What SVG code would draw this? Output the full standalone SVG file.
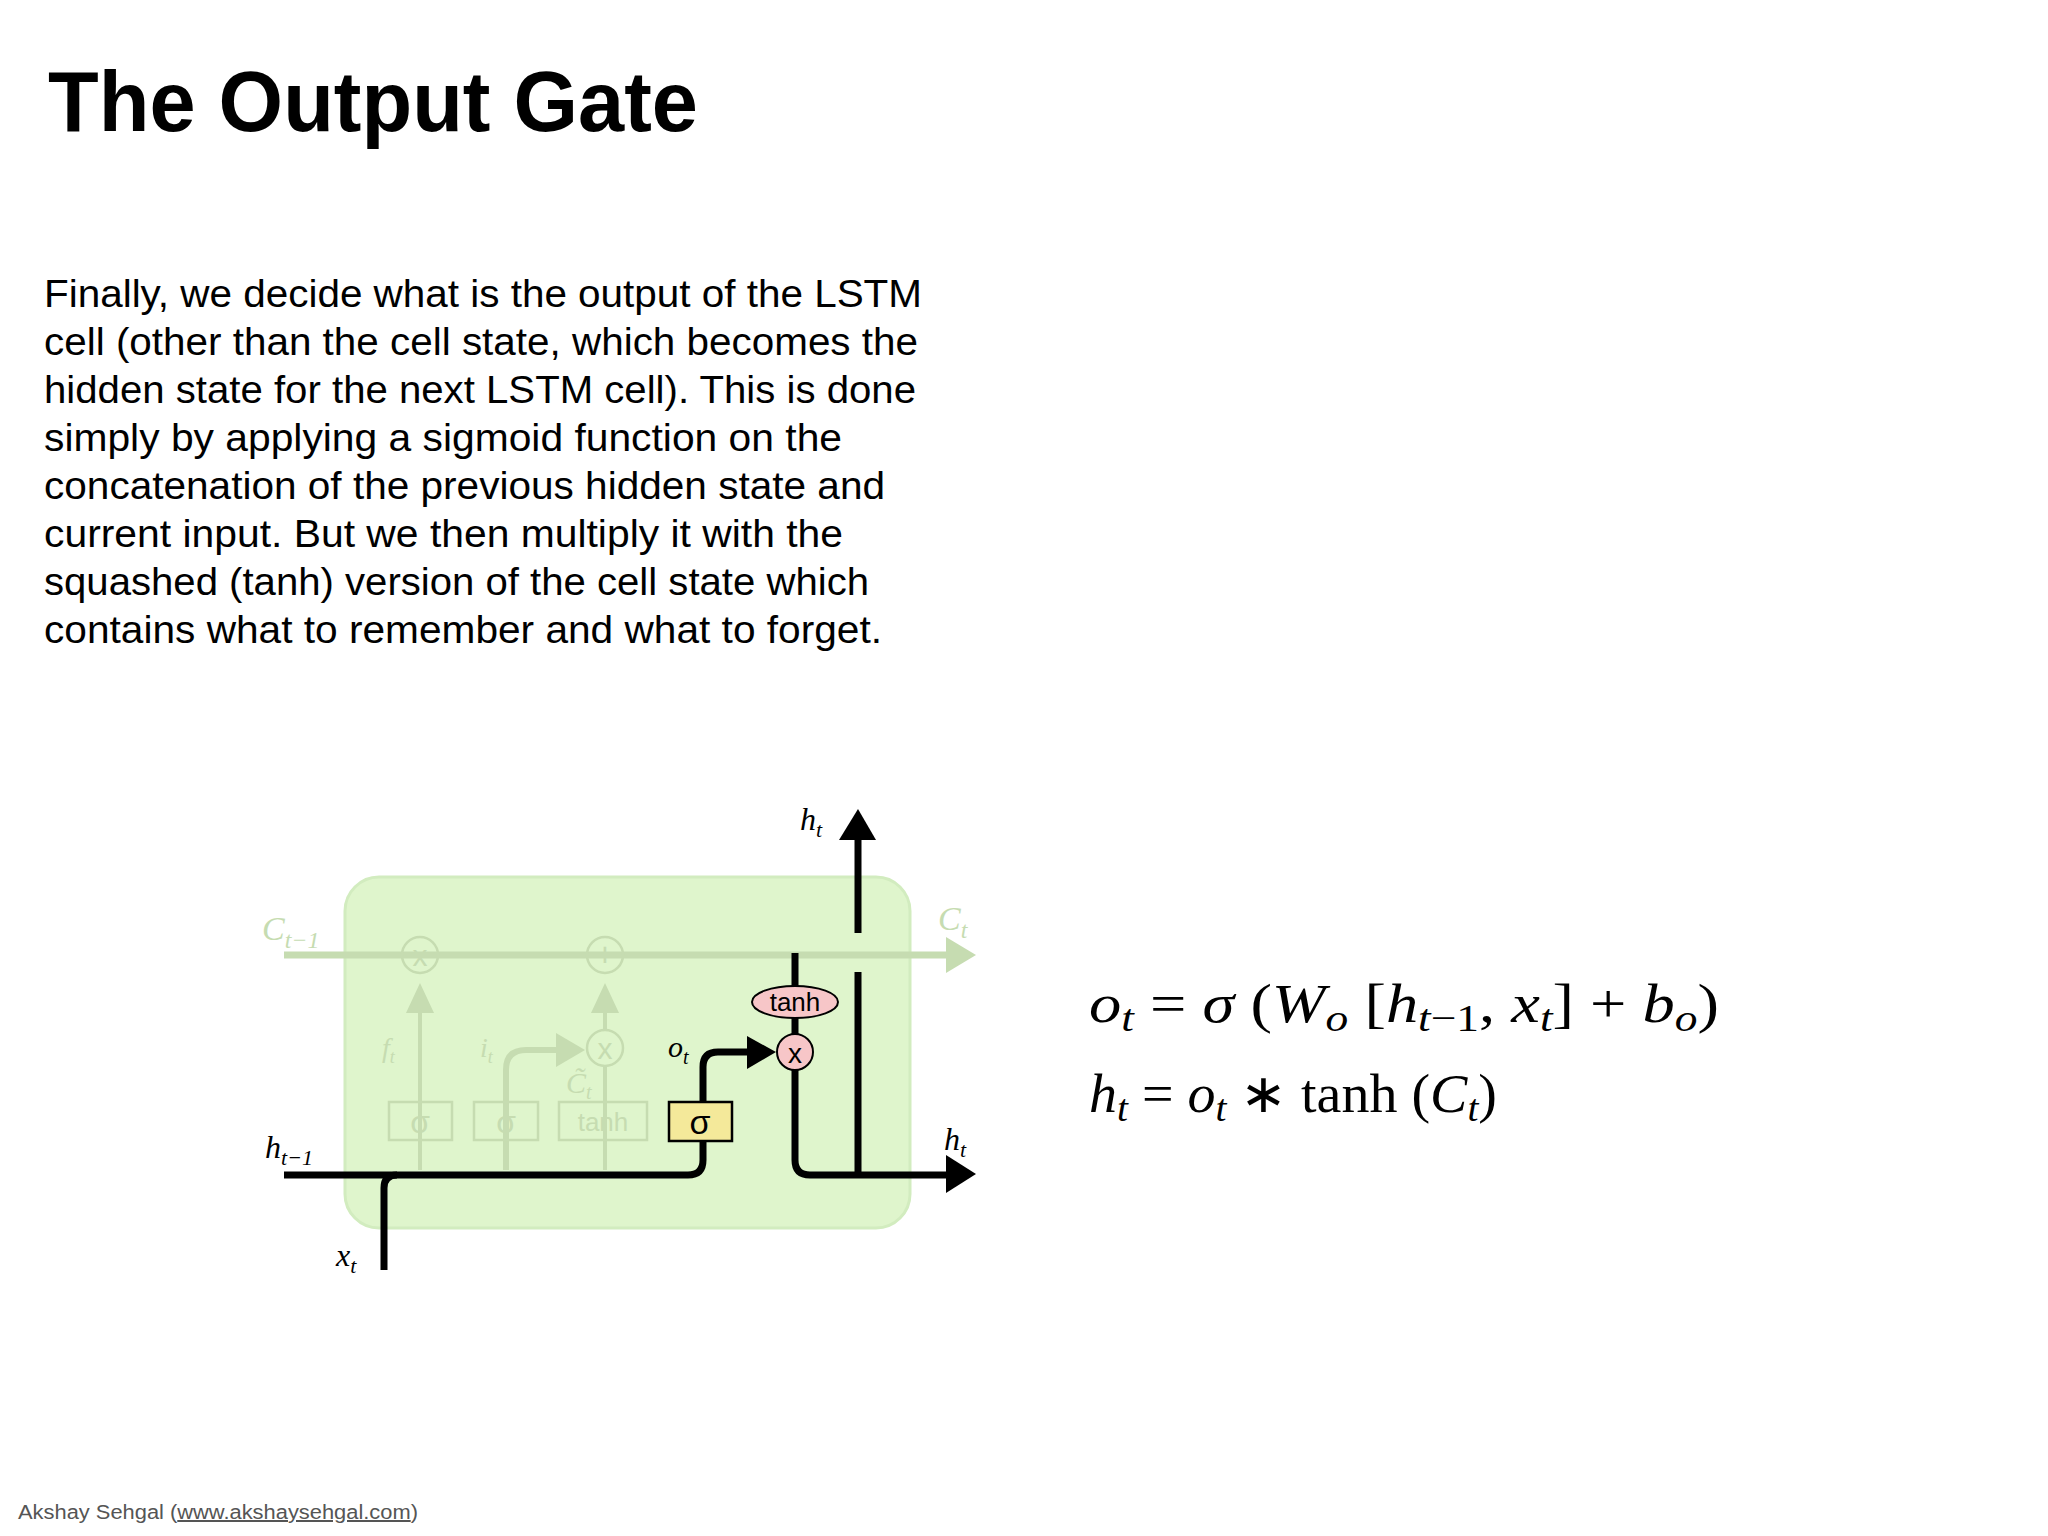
<svg xmlns="http://www.w3.org/2000/svg" width="2048" height="1536" viewBox="0 0 2048 1536">
<style>
.sans{font-family:"Liberation Sans",Arial,sans-serif}
.body{font-family:"Liberation Sans",Arial,sans-serif;font-size:38px;fill:#000}
.math{font-family:"Liberation Serif","Times New Roman",serif;font-style:italic}
.fade{stroke:#c6dcb1;fill:none}
.fadet{fill:#c6dcb1}
.blk{stroke:#000;fill:none;stroke-width:7;stroke-linejoin:round}
</style>
<defs>
<marker id="ab" markerWidth="4" markerHeight="5" refX="0.5" refY="2.5" orient="auto" markerUnits="strokeWidth"><path d="M0,0 L4,2.5 L0,5 Z" fill="#000"/></marker>
<marker id="af" markerWidth="4" markerHeight="5" refX="0.5" refY="2.5" orient="auto" markerUnits="strokeWidth"><path d="M0,0 L4,2.5 L0,5 Z" fill="#c6dcb1"/></marker>
</defs>
<rect width="2048" height="1536" fill="#fff"/>
<text class="sans" x="48" y="131" font-size="86" font-weight="bold" textLength="650" lengthAdjust="spacingAndGlyphs">The Output Gate</text>
<g id="paragraph" class="body">
<text x="44" y="307" textLength="878" lengthAdjust="spacingAndGlyphs">Finally, we decide what is the output of the LSTM</text>
<text x="44" y="355" textLength="874" lengthAdjust="spacingAndGlyphs">cell (other than the cell state, which becomes the</text>
<text x="44" y="403" textLength="872" lengthAdjust="spacingAndGlyphs">hidden state for the next LSTM cell). This is done</text>
<text x="44" y="451" textLength="798" lengthAdjust="spacingAndGlyphs">simply by applying a sigmoid function on the</text>
<text x="44" y="499" textLength="841" lengthAdjust="spacingAndGlyphs">concatenation of the previous hidden state and</text>
<text x="44" y="547" textLength="799" lengthAdjust="spacingAndGlyphs">current input. But we then multiply it with the</text>
<text x="44" y="595" textLength="825" lengthAdjust="spacingAndGlyphs">squashed (tanh) version of the cell state which</text>
<text x="44" y="643" textLength="838" lengthAdjust="spacingAndGlyphs">contains what to remember and what to forget.</text>
</g>
<g id="cell">
<rect x="345" y="877" width="565" height="351" rx="34" fill="#dff5cc" stroke="#d2ecbf" stroke-width="3"/>
</g>
<g id="faded">
<line x1="284" y1="955" x2="948" y2="955" class="fade" stroke-width="7"/>
<path d="M946,937 L976,955 L946,973 Z" fill="#c6dcb1"/>
<circle cx="420" cy="955" r="18" class="fade" stroke-width="2.5"/>
<text x="420" y="966" class="sans fadet" font-size="30" text-anchor="middle">x</text>
<circle cx="605" cy="955" r="18" class="fade" stroke-width="2.5"/>
<text x="605" y="966" class="sans fadet" font-size="34" text-anchor="middle">+</text>
<line x1="420" y1="1170" x2="420" y2="1012" class="fade" stroke-width="4"/>
<path d="M406,1013 L420,983 L434,1013 Z" fill="#c6dcb1"/>
<line x1="605" y1="1170" x2="605" y2="1066" class="fade" stroke-width="4"/>
<line x1="605" y1="1030" x2="605" y2="1012" class="fade" stroke-width="4"/>
<path d="M591,1013 L605,983 L619,1013 Z" fill="#c6dcb1"/>
<circle cx="605" cy="1048" r="18" class="fade" stroke-width="2.5"/>
<text x="605" y="1059" class="sans fadet" font-size="30" text-anchor="middle">x</text>
<path d="M506,1170 L506,1070 Q506,1050 526,1050 L560,1050" class="fade" stroke-width="6"/>
<path d="M556,1033 L585,1050 L556,1067 Z" fill="#c6dcb1"/>
<rect x="389" y="1102" width="63" height="38" fill="#dff5cc" class="fade" stroke-width="2.5"/>
<text x="420" y="1133" class="sans fadet" font-size="32" text-anchor="middle">σ</text>
<rect x="474" y="1102" width="64" height="38" fill="#dff5cc" class="fade" stroke-width="2.5"/>
<text x="506" y="1133" class="sans fadet" font-size="32" text-anchor="middle">σ</text>
<rect x="559" y="1102" width="88" height="38" fill="#dff5cc" class="fade" stroke-width="2.5"/>
<text x="603" y="1131" class="sans fadet" font-size="26" text-anchor="middle">tanh</text>
<text x="382" y="1057" class="math fadet" font-size="28">f<tspan dy="6" font-size="18">t</tspan></text>
<text x="480" y="1057" class="math fadet" font-size="28">i<tspan dy="6" font-size="18">t</tspan></text>
<text x="566" y="1093" class="math fadet" font-size="30">C̃<tspan dy="6" font-size="20">t</tspan></text>
<text x="262" y="940" class="math fadet" font-size="34">C<tspan dy="8" font-size="24">t−1</tspan></text>
<text x="938" y="930" class="math fadet" font-size="34">C<tspan dy="8" font-size="24">t</tspan></text>
</g>
<g id="connectors">
<path d="M284,1175 L688,1175 Q703,1175 703,1160 L703,1141" class="blk"/>
<path d="M384,1270 L384,1188 Q384,1175 397,1175" class="blk"/>
<path d="M703,1102 L703,1067 Q703,1052 718,1052 L748,1052" class="blk"/>
<path d="M747,1036 L776,1052 L747,1069 Z" fill="#000"/>
<path d="M795,953 L795,1160 Q795,1175 810,1175 L948,1175" class="blk"/>
<path d="M946,1155 L976,1174 L946,1193 Z" fill="#000"/>
<line x1="858" y1="1175" x2="858" y2="972" class="blk"/>
<line x1="858" y1="933" x2="858" y2="838" class="blk"/>
<path d="M839,840 L858,809 L876,840 Z" fill="#000"/>
</g>
<g id="sigma_o">
<rect x="669" y="1102" width="63" height="39" fill="#f4e99a" stroke="#000" stroke-width="2.5"/>
<text x="700" y="1134" class="sans" font-size="34" text-anchor="middle">σ</text>
</g>
<g id="tanh_o">
<ellipse cx="795" cy="1002" rx="43" ry="16" fill="#f7c6c8" stroke="#000" stroke-width="2"/>
<text x="795" y="1011" class="sans" font-size="26" text-anchor="middle">tanh</text>
</g>
<g id="mult_o">
<circle cx="795" cy="1052" r="18" fill="#f7c6c8" stroke="#000" stroke-width="2"/>
<text x="795" y="1063" class="sans" font-size="28" text-anchor="middle">x</text>
</g>
<g id="labels">
<text x="668" y="1057" class="math" font-size="30">o<tspan dy="7" font-size="20">t</tspan></text>
<text x="800" y="830" class="math" font-size="32">h<tspan dy="7" font-size="22">t</tspan></text>
<text x="944" y="1150" class="math" font-size="32">h<tspan dy="7" font-size="22">t</tspan></text>
<text x="265" y="1158" class="math" font-size="32">h<tspan dy="7" font-size="22">t−1</tspan></text>
<text x="336" y="1266" class="math" font-size="32">x<tspan dy="7" font-size="22">t</tspan></text>
</g>
<g id="equations" font-family="Liberation Serif,'Times New Roman',serif" font-size="54">
<text x="1089" y="1022" textLength="630" lengthAdjust="spacingAndGlyphs"><tspan font-style="italic">o</tspan><tspan font-style="italic" font-size="38" dy="9">t</tspan><tspan dy="-9"> = </tspan><tspan font-style="italic">σ</tspan><tspan> (</tspan><tspan font-style="italic">W</tspan><tspan font-style="italic" font-size="38" dy="9">o</tspan><tspan dy="-9">  [</tspan><tspan font-style="italic">h</tspan><tspan font-size="38" dy="9"><tspan font-style="italic">t</tspan>−1</tspan><tspan dy="-9">, </tspan><tspan font-style="italic">x</tspan><tspan font-style="italic" font-size="38" dy="9">t</tspan><tspan dy="-9">]  +  </tspan><tspan font-style="italic">b</tspan><tspan font-style="italic" font-size="38" dy="9">o</tspan><tspan dy="-9">)</tspan></text>
<text x="1089" y="1112" textLength="408" lengthAdjust="spacingAndGlyphs"><tspan font-style="italic">h</tspan><tspan font-style="italic" font-size="38" dy="9">t</tspan><tspan dy="-9"> = </tspan><tspan font-style="italic">o</tspan><tspan font-style="italic" font-size="38" dy="9">t</tspan><tspan dy="-9"> ∗ tanh (</tspan><tspan font-style="italic">C</tspan><tspan font-style="italic" font-size="38" dy="9">t</tspan><tspan dy="-9">)</tspan></text>
</g>
<text x="18" y="1519" class="sans" font-size="20" fill="#555" textLength="400" lengthAdjust="spacingAndGlyphs">Akshay Sehgal (<tspan text-decoration="underline">www.akshaysehgal.com</tspan>)</text>
</svg>
